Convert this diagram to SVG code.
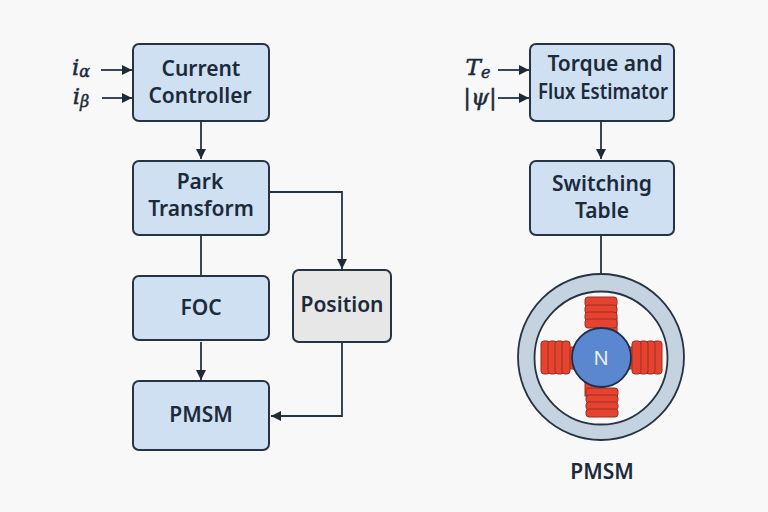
<svg xmlns="http://www.w3.org/2000/svg" width="768" height="512" viewBox="0 0 768 512">
<defs>
<marker id="arr" markerUnits="userSpaceOnUse" markerWidth="12" markerHeight="12" refX="10" refY="6" orient="auto"><path d="M0 1L10 6L0 11Z" fill="#1f2a38"/></marker>
</defs>
<style>
.box{fill:#cfe0f3;stroke:#263342;stroke-width:2}
.gray{fill:#e7e7e7;stroke:#263342;stroke-width:2}
.t{font-family:"Noto Sans","Inter",sans-serif;font-size:21px;font-weight:600;fill:#1c2a3a;text-anchor:middle}
.m{font-family:"DejaVu Serif",serif;font-style:italic;font-size:23px;font-weight:400;fill:#1c2a3a;stroke:#1c2a3a;stroke-width:0.500;text-anchor:middle}
.c{fill:none;stroke:#263342;stroke-width:1.800}
.a{marker-end:url(#arr)}
.coil{fill:#e5432f;stroke:#9a3024;stroke-width:1}
</style>
<rect width="768" height="512" fill="#f8f8f8"/>
<g id="connectors">
<path class="c a" d="M101 70H132"/>
<path class="c a" d="M102 98H132"/>
<path class="c a" d="M201 122V159"/>
<path class="c" d="M201 236V276"/>
<path class="c a" d="M270 192H342V269"/>
<path class="c a" d="M201 342V380"/>
<path class="c a" d="M342 343V416H271"/>
<path class="c a" d="M498 70H529"/>
<path class="c a" d="M498 98H529"/>
<path class="c a" d="M601 122V159"/>
<path class="c" d="M601 236V275"/>
</g>
<g id="input-ia"><text class="m" x="81" y="75">i<tspan font-size="16" dy="2">α</tspan></text></g>
<g id="input-ib"><text class="m" x="81" y="104">i<tspan font-size="16" dy="3">β</tspan></text></g>
<g id="input-te"><text class="m" x="478" y="75">T<tspan font-size="16" dy="3">e</tspan></text></g>
<g id="input-psi"><text class="m" x="480" y="105">|ψ|</text></g>
<g id="current-controller"><rect class="box" x="133" y="44" width="136" height="77" rx="6"/><text class="t" x="201" y="76">Current</text><text class="t" x="200" y="103">Controller</text></g>
<g id="park-transform"><rect class="box" x="133" y="161" width="136" height="74" rx="6"/><text class="t" x="200" y="189">Park</text><text class="t" x="201" y="216">Transform</text></g>
<g id="foc"><rect class="box" x="133" y="276" width="136" height="64" rx="6"/><text class="t" x="201" y="315">FOC</text></g>
<g id="position"><rect class="gray" x="293" y="270" width="98" height="72" rx="6"/><text class="t" x="342" y="312">Position</text></g>
<g id="pmsm-left"><rect class="box" x="133" y="381" width="136" height="69" rx="6"/><text class="t" x="201" y="422">PMSM</text></g>
<g id="torque-flux"><rect class="box" x="530" y="44" width="144" height="77" rx="6"/><text class="t" x="605" y="71">Torque and</text><text class="t" x="603" y="99" textLength="130" lengthAdjust="spacingAndGlyphs">Flux Estimator</text></g>
<g id="switching-table"><rect class="box" x="530" y="161" width="144" height="74" rx="6"/><text class="t" x="602" y="191">Switching</text><text class="t" x="602" y="218">Table</text></g>
<g id="motor">
<circle cx="601" cy="357" r="83" fill="#c5d3e0" stroke="#263342" stroke-width="1.800"/>
<circle cx="601" cy="358" r="66.500" fill="#f8f8f8" stroke="#263342" stroke-width="1.800"/>
<g id="coil-top">
<rect class="coil" x="597" y="318" width="20" height="16"/>
<rect class="coil" x="585" y="297" width="32" height="10" rx="3"/>
<rect class="coil" x="585" y="305" width="32" height="9" rx="3"/>
<rect class="coil" x="585" y="312" width="32" height="9" rx="3"/>
<rect class="coil" x="585" y="319" width="32" height="9" rx="3"/>
</g>
<g id="coil-bottom">
<rect class="coil" x="585" y="380" width="20" height="16"/>
<rect class="coil" x="586" y="388" width="32" height="9" rx="3"/>
<rect class="coil" x="586" y="395" width="32" height="8" rx="3"/>
<rect class="coil" x="586" y="402" width="32" height="8" rx="3"/>
<rect class="coil" x="586" y="409" width="32" height="8" rx="3"/>
</g>
<g id="coil-left">
<rect class="coil" x="565" y="347" width="14" height="22"/>
<rect class="coil" x="541" y="341" width="9" height="33" rx="3"/>
<rect class="coil" x="548" y="341" width="9" height="33" rx="3"/>
<rect class="coil" x="555" y="341" width="9" height="33" rx="3"/>
<rect class="coil" x="562" y="341" width="8" height="33" rx="3"/>
</g>
<g id="coil-right">
<rect class="coil" x="624" y="347" width="14" height="22"/>
<rect class="coil" x="653" y="341" width="9" height="33" rx="3"/>
<rect class="coil" x="646" y="341" width="9" height="33" rx="3"/>
<rect class="coil" x="639" y="341" width="9" height="33" rx="3"/>
<rect class="coil" x="632" y="341" width="9" height="33" rx="3"/>
</g>
<circle cx="601.500" cy="357.500" r="29.500" fill="#5b87d0" stroke="#1f2f4a" stroke-width="1.800"/>
<text x="601" y="364.500" font-family="'Noto Sans',sans-serif" font-size="20" fill="#e8f0fb" text-anchor="middle">N</text>
</g>
<g id="pmsm-right"><text class="t" x="602" y="479">PMSM</text></g>
</svg>
